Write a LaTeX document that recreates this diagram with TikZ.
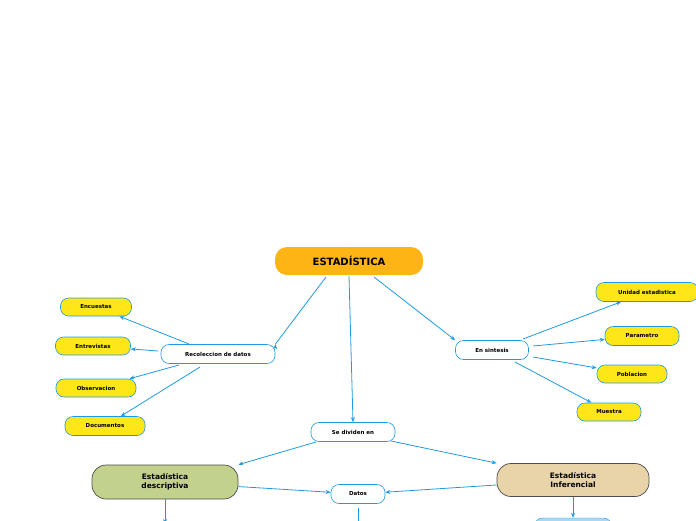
\documentclass[tikz,border=0pt]{standalone}
\usepackage{fontspec}
\setmainfont{DejaVu Sans}
\usetikzlibrary{arrows.meta}
\definecolor{lb}{HTML}{1E9BE0}
\definecolor{yel}{HTML}{FFE619}
\definecolor{org}{HTML}{FDB515}
\definecolor{grn}{HTML}{C2D18C}
\definecolor{tan}{HTML}{E8D4A8}
\definecolor{pale}{HTML}{A8D8F5}
\begin{document}
\begin{tikzpicture}[x=1pt,y=-1pt,
  box/.style={draw=lb,line width=0.6pt,rounded corners=8pt,inner sep=0pt,font=\bfseries\fontsize{5.5}{6}\selectfont,align=center},
  leaf/.style={box,fill=yel},
  wbox/.style={box,fill=white},
  big/.style={draw=black!70,line width=0.7pt,rounded corners=14pt,inner sep=0pt,font=\bfseries\fontsize{7.5}{8.5}\selectfont,align=center},
  arr/.style={draw=lb,line width=0.8pt,-{Stealth[length=5pt,width=4pt]}}]
\useasboundingbox (0,0) rectangle (696,520);
\clip (0,0) rectangle (696,520);
\node[fill=org,rounded corners=12pt,minimum width=148pt,minimum height=28pt,font=\bfseries\fontsize{10}{12}\selectfont] (E) at (349,261) {ESTADÍSTICA};
\node[wbox,minimum width=114pt,minimum height=19pt] (R) at (218,354) {Recoleccion de datos};
\node[leaf,minimum width=71pt,minimum height=18pt] (L1) at (96,307) {Encuestas};
\node[leaf,minimum width=75pt,minimum height=18pt] (L2) at (93,346) {Entrevistas};
\node[leaf,minimum width=80pt,minimum height=18pt] (L3) at (96,388) {Observacion};
\node[leaf,minimum width=80pt,minimum height=19pt] (L4) at (105,426) {Documentos};
\node[wbox,minimum width=84pt,minimum height=19pt] (S) at (353,432) {Se dividen en};
\node[wbox,minimum width=73pt,minimum height=19pt] (N) at (492,350) {En sintesis};
\node[leaf,minimum width=102pt,minimum height=19pt] (U) at (647,292) {Unidad estadistica};
\node[leaf,minimum width=74pt,minimum height=19pt] (P) at (642,336) {Parametro};
\node[leaf,minimum width=70pt,minimum height=18pt] (Po) at (632,374) {Poblacion};
\node[leaf,minimum width=64pt,minimum height=18pt] (M) at (609,412) {Muestra};
\node[big,fill=grn,minimum width=146pt,minimum height=34pt] (D) at (165,482) {Estadística\\descriptiva};
\node[wbox,minimum width=54pt,minimum height=19pt] (Da) at (358,494) {Datos};
\node[big,fill=tan,minimum width=152pt,minimum height=33pt] (I) at (573,480) {Estadística\\Inferencial};
\node[draw=lb,fill=pale,rounded corners=8pt,minimum width=77pt,minimum height=20pt] (B) at (573,528) {};
\coordinate (c1) at (165,524);
\coordinate (c2) at (358,521);
\draw[arr] (326,277) -- (R.north east) ++(0,0);
\draw[arr] (349,276) -- (S.north);
\draw[arr] (374,277) -- (N.north west);
\draw[arr] (189,344) -- (L1);
\draw[arr] (158,351) -- (L2);
\draw[arr] (179,365) -- (L3);
\draw[arr] (200,367) -- (L4);
\draw[arr] (523,339) -- (U);
\draw[arr] (533,346) -- (P);
\draw[arr] (533,357) -- (Po);
\draw[arr] (515,362) -- (M);
\draw[arr] (316,442) -- (D.north east);
\draw[arr] (391,441) -- (I.north west);
\draw[arr] (D) -- (Da);
\draw[arr] (I) -- (Da);
\draw[arr] (D.south) -- (c1);
\draw[draw=lb,line width=0.8pt] (358,508) -- (c2);
\draw[arr] (I.south) -- (B.north);
\end{tikzpicture}
\end{document}
